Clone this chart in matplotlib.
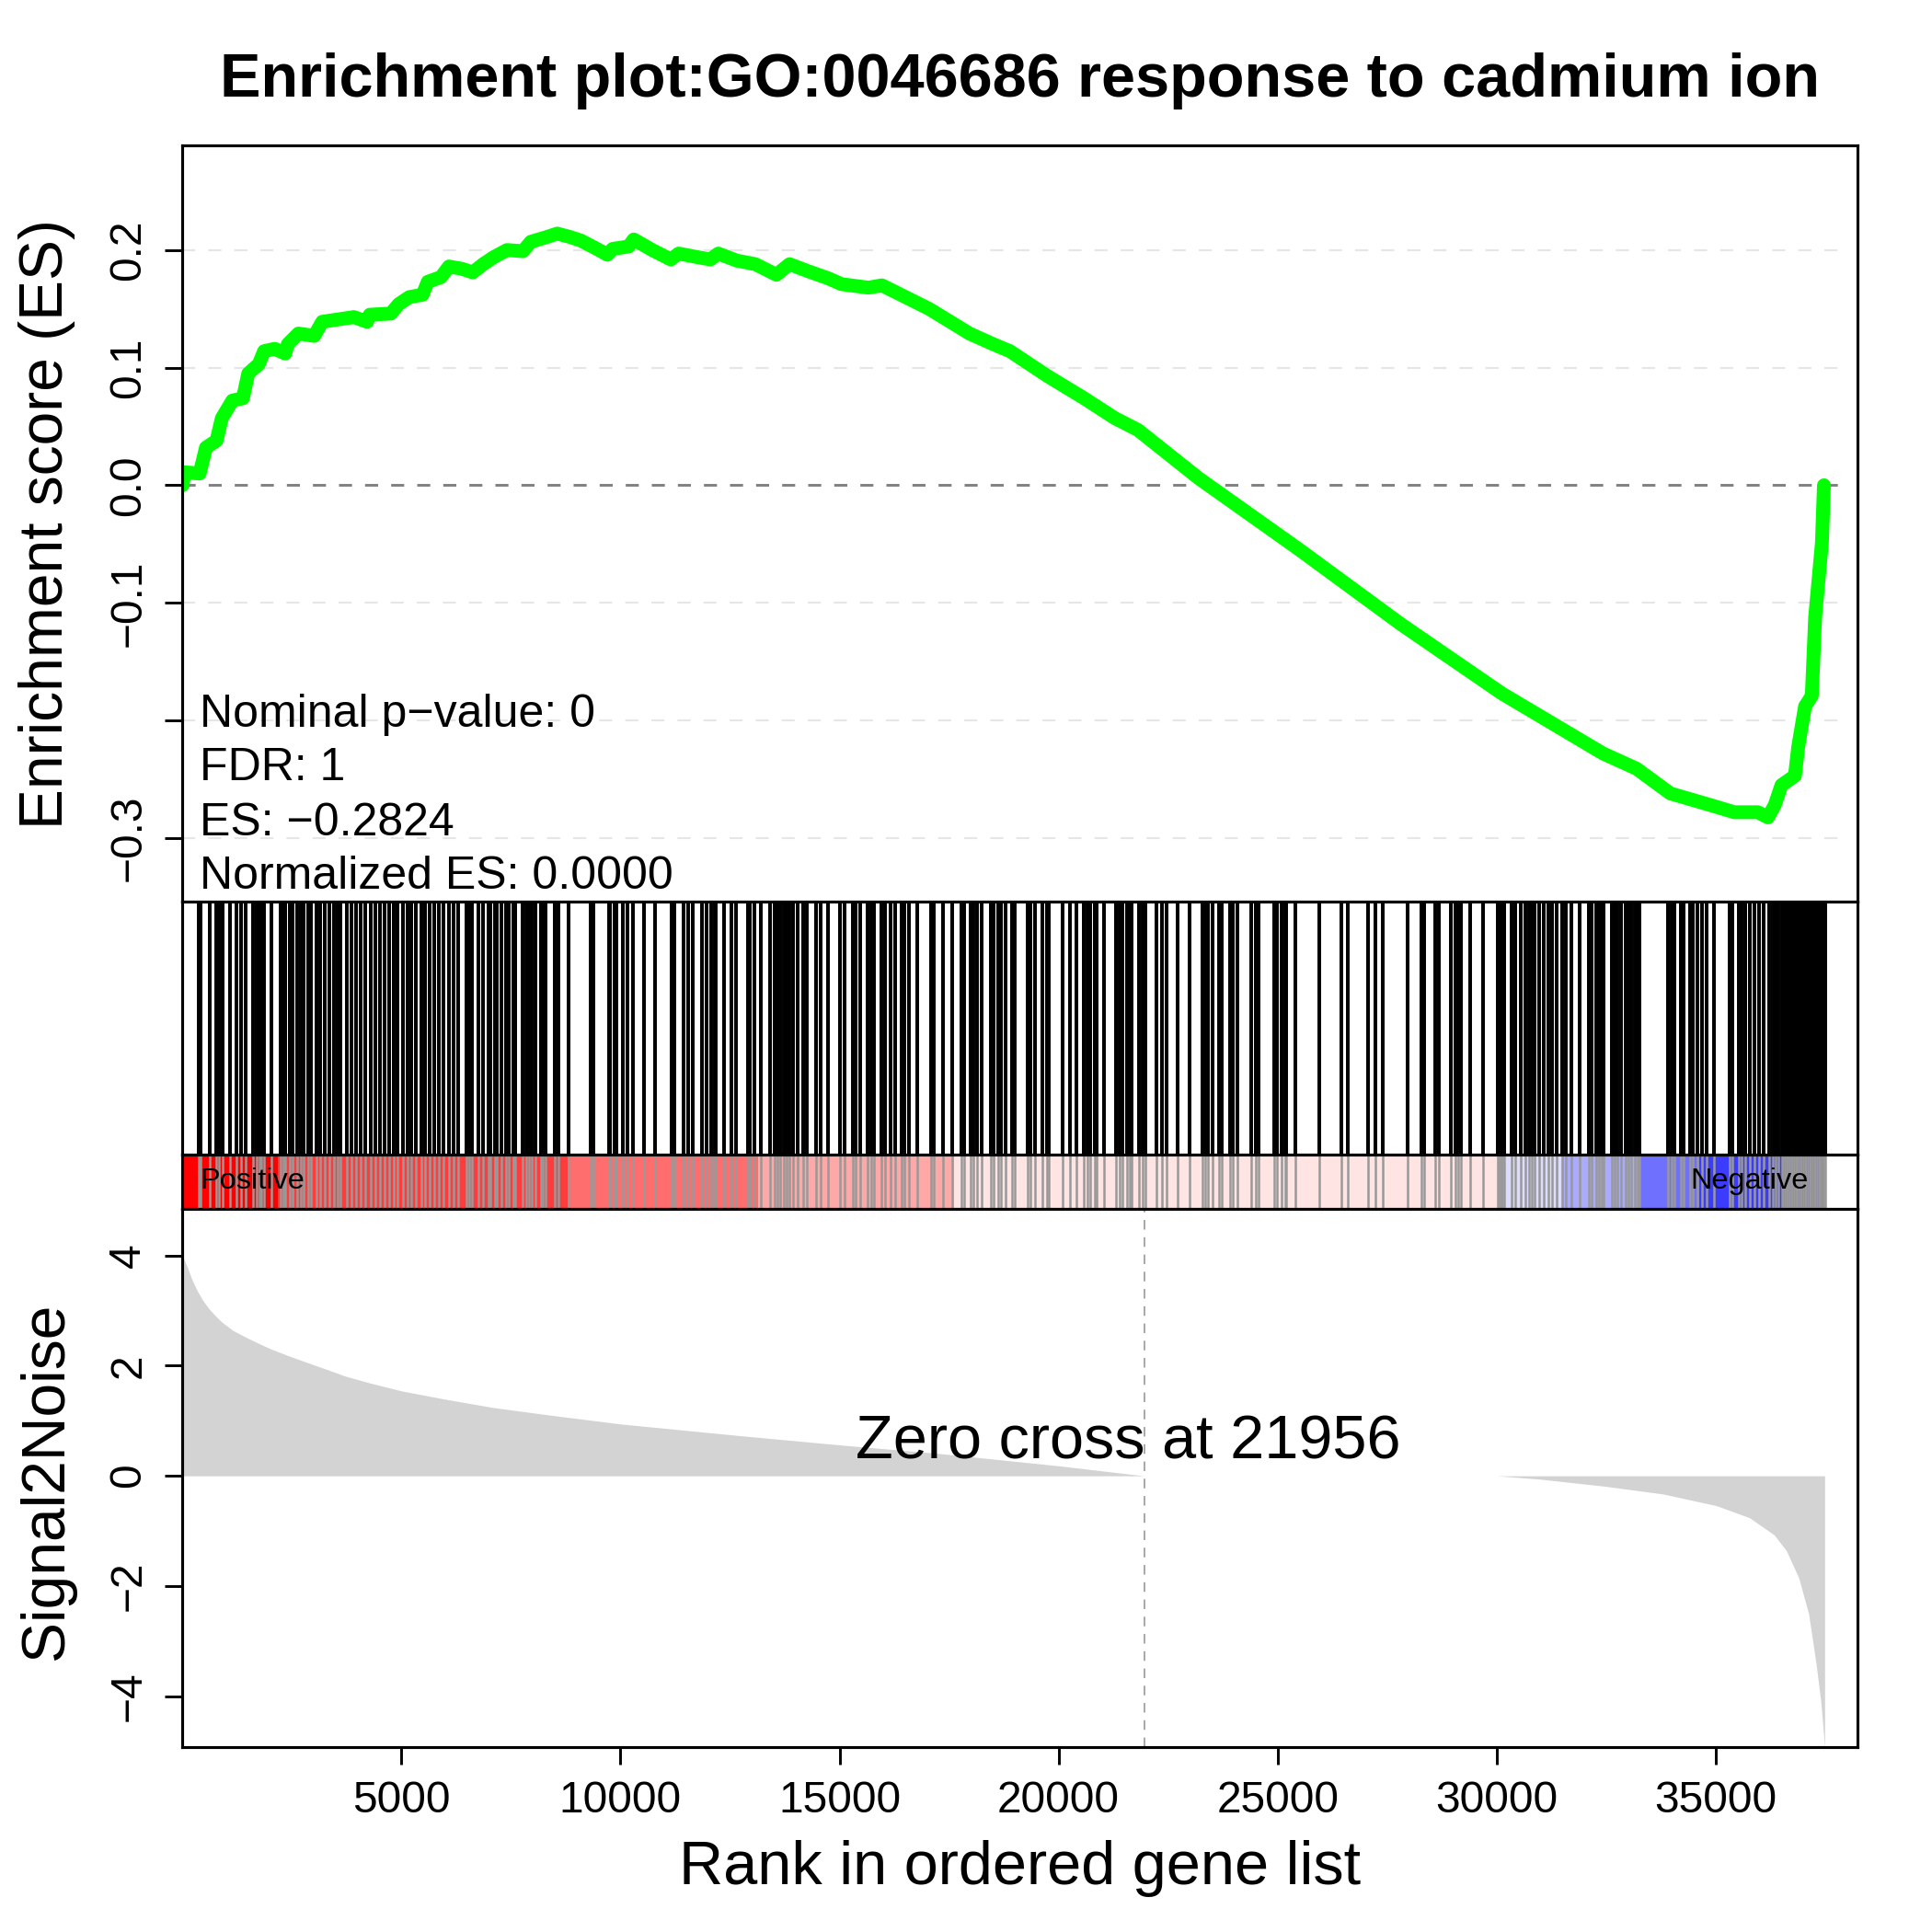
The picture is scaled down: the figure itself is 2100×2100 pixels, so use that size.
import matplotlib
matplotlib.use("Agg")
import matplotlib.pyplot as plt

plt.rcParams['font.family'] = ['Liberation Sans', 'DejaVu Sans']
plt.rcParams['lines.scale_dashes'] = False
plt.rcParams['axes.unicode_minus'] = True

# ---------------- data ----------------
title = "Enrichment plot:GO:0046686 response to cadmium ion"
n_genes = 37520
zero_cross = 21956

es_rank = [0, 57, 395, 539, 781, 901, 1142, 1383, 1504, 1745, 1866, 2107, 2348, 2408, 2649, 3011,
           3192, 3553, 3915, 4216, 4277, 4759, 4939, 5181, 5482, 5603, 5904, 6085, 6386, 6627, 6868,
           7109, 7411, 7773, 7953, 8315, 8556, 8857, 9099, 9460, 9701, 9822, 10184, 10304, 10726,
           11148, 11329, 11750, 12052, 12233, 12655, 13077, 13559, 13860, 14282, 14740, 15046, 15661,
           15968, 16507, 17045, 17968, 18506, 18891, 19741, 20582, 21287, 21813, 23197, 25505, 27811,
           30118, 32425, 33194, 33963, 34886, 35424, 35962, 36193, 36347, 36501, 36808, 36885, 37039,
           37193, 37270, 37424, 37470]
es_val = [0, 0.011, 0.010, 0.032, 0.038, 0.057, 0.072, 0.074, 0.095, 0.103, 0.114, 0.116, 0.112,
          0.120, 0.129, 0.127, 0.139, 0.141, 0.143, 0.139, 0.145, 0.146, 0.154, 0.160, 0.162, 0.173,
          0.177, 0.186, 0.184, 0.181, 0.188, 0.194, 0.200, 0.199, 0.207, 0.211, 0.214, 0.211, 0.208,
          0.201, 0.196, 0.201, 0.203, 0.209, 0.200, 0.192, 0.197, 0.194, 0.192, 0.197, 0.191, 0.188,
          0.179, 0.188, 0.182, 0.176, 0.171, 0.168, 0.170, 0.160, 0.150, 0.129, 0.120, 0.114, 0.093,
          0.074, 0.057, 0.047, 0.006, -0.055, -0.118, -0.177, -0.228, -0.241, -0.262, -0.272, -0.278,
          -0.278, -0.2824, -0.272, -0.255, -0.247, -0.222, -0.188, -0.179, -0.112, -0.049, 0.0]

hits = [367, 423, 633, 773, 829, 913, 1088, 1228, 1333, 1438, 1613, 1697, 1753, 1809, 1858, 2033,
        2243, 2313, 2348, 2453, 2523, 2628, 2698, 2768, 2873, 2943, 3069, 3153, 3258, 3363, 3468,
        3538, 3608, 3748, 3853, 3958, 4063, 4168, 4308, 4413, 4518, 4609, 4728, 4833, 4917, 5043,
        5148, 5218, 5323, 5463, 5533, 5638, 5743, 5848, 5953, 6093, 6198, 6303,
        6478, 6548, 6604, 6758, 6863, 6982, 7038, 7143, 7178, 7283, 7388, 7458, 7563, 7598, 7773,
        7843, 7913, 7983, 8053, 8193, 8228, 8298, 8508, 8578, 8823, 9313, 9383, 9733, 9768, 9873,
        9908, 10048, 10153, 10293, 10538, 10783, 11168, 11238, 11448, 11553, 11658, 11868, 11973,
        12078, 12148, 12183, 12358, 12533, 12638,
        12918, 12953, 13058, 13198, 13408, 13513, 13583, 13653, 13723, 13793, 13863, 13933, 14038,
        14178, 14248, 14458, 14563, 14738, 15018, 15123, 15298, 15368, 15473, 15648, 15718, 15788,
        15963, 16033, 16173, 16278, 16418, 16488, 16593, 16768, 17083, 17153, 17363, 17573, 17783,
        17853, 17993, 18063, 18133, 18238, 18448, 18518, 18623, 18693, 18798, 18938, 19008,
        19288, 19358, 19463, 19638, 19743, 19778, 20093, 20268, 20408, 20583, 20653, 20723, 20828,
        20863, 21038, 21318, 21388, 21458, 21563, 21633, 21668, 21843, 21913, 21983, 22228, 22368,
        22473, 22718, 22998, 23278, 23348, 23418, 23523, 23663, 23733, 23908, 23978, 24083, 24398,
        24503, 24573, 24923, 24993, 25098, 25168, 25203, 25413,
        25952, 26463, 26603, 27058, 27233, 27408, 27968, 28283, 28353, 28598, 28689, 28948, 29053,
        29123, 29193, 29403, 29683, 30033, 30068, 30103, 30138, 30173, 30348, 30418, 30558, 30663,
        30733, 30803, 30873, 30978, 31083, 31188, 31258, 31363, 31503, 31573, 31713, 31888,
        32098, 32168, 32273, 32343, 32392, 32448, 32623, 32693, 32763, 32833, 32938, 33008, 33078,
        33148, 33218, 33253, 33918, 33988, 34058, 34198, 34268, 34408, 34478, 34583, 34688, 34793,
        34968, 35318, 35388, 35528, 35598, 35668, 35773, 35878, 35983, 36088, 36228, 36298, 36368,
        36438, 36508, 36543, 36578, 36613, 36648, 36683, 36718, 36753, 36788, 36823, 36858, 36893,
        36928, 36963, 36998, 37033, 37068, 37103, 37138, 37173, 37208, 37243, 37278, 37313, 37348,
        37383, 37418, 37453, 37488, 37510]

band_edges = [0, 2180, 8790, 13150, 17610, 30000, 31500, 33290, 34630, 36900, 37520]
band_colors = ["#FF0000", "#FF3C3C", "#FF6E6E", "#FFA8A8", "#FFE4E4",
               "#DCDCFF", "#AAAAFF", "#7070FF", "#3C3CFF", "#0000FF"]

metric_rank = [0, 40, 113, 220, 338, 470, 619, 760, 900, 1150, 1462, 1750, 2025, 2450, 2869, 3300,
               3713, 4300, 5006, 6000, 7087, 8500, 10011, 12711, 15017, 17210, 20022, 21956,
               30006, 30990, 32481, 33802, 35011, 35771, 36333, 36614, 36895, 37120, 37290,
               37402, 37486]
metric_val = [4.04, 3.92, 3.79, 3.56, 3.36, 3.18, 3.02, 2.90, 2.79, 2.64, 2.51, 2.40, 2.30, 2.17,
              2.05, 1.93, 1.81, 1.68, 1.54, 1.39, 1.24, 1.09, 0.94, 0.73, 0.56, 0.41, 0.18, 0.0,
              0.0, -0.06, -0.19, -0.33, -0.54, -0.76, -1.07, -1.36, -1.85, -2.5, -3.4,
              -4.11, -4.92]

stats_lines = ["Nominal p\u2212value: 0", "FDR: 1", "ES: \u22120.2824", "Normalized ES: 0.0000"]
es_ticks = [0.2, 0.1, 0.0, -0.1, -0.2, -0.3]
es_ticklabels = ["0.2", "0.1", "0.0", "\u22120.1", "", "\u22120.3"]
m_ticks = [4, 2, 0, -2, -4]
x_ticks = [5000, 10000, 15000, 20000, 25000, 30000, 35000]

# ---------------- figure ----------------
fig = plt.figure(figsize=(7, 7), dpi=300)
L, W = 0.09438, 0.86714
XLIM = (0, 38240)
SPW = 0.75

ax_es = fig.add_axes([L, 0.53333, W, 0.39143])
ax_hit = fig.add_axes([L, 0.40257, W, 0.13076])
ax_cb = fig.add_axes([L, 0.37448, W, 0.02809])
ax_m = fig.add_axes([L, 0.09576, W, 0.27872])

for ax in (ax_es, ax_hit, ax_cb, ax_m):
    ax.set_xlim(*XLIM)
    for s in ax.spines.values():
        s.set_linewidth(SPW)
        s.set_zorder(10)

# ES panel
ax_es.set_ylim(-0.354, 0.289)
for g in [0.2, 0.1, -0.1, -0.2, -0.3]:
    ax_es.axhline(g, color="#E6E6E6", lw=0.5, dashes=(3.4, 3.4), xmax=0.99, zorder=1)
ax_es.axhline(0.0, color="#808080", lw=0.7, dashes=(3.4, 3.4), xmax=0.99, zorder=1)
ax_es.plot(es_rank, es_val, color="#00FF00", lw=3.6, solid_capstyle="round",
           solid_joinstyle="round", zorder=3)
ax_es.set_xticks([])
ax_es.set_yticks(es_ticks)
ax_es.set_yticklabels(es_ticklabels)
ax_es.tick_params(axis='y', length=4.6, width=0.7, labelsize=11.5, pad=4)
for lab in ax_es.get_yticklabels():
    lab.set_rotation(90)
    lab.set_va('center')
for i, (s, yy) in enumerate(zip(stats_lines, [0.2474, 0.1758, 0.1040, 0.0324])):
    ax_es.text(0.0103, yy, s, transform=ax_es.transAxes, fontsize=12, ha='left', va='center')

# hits panel
ax_hit.set_ylim(0, 1)
ax_hit.vlines(hits, 0, 1, color="black", lw=0.95)
ax_hit.set_xticks([])
ax_hit.set_yticks([])

# colour bar
ax_cb.set_ylim(0, 1)
for i, c in enumerate(band_colors):
    ax_cb.axvspan(band_edges[i], band_edges[i + 1], color=c, lw=0, zorder=1)
ax_cb.vlines(hits, 0, 1, color="#999999", lw=0.6, zorder=2)
ax_cb.set_xticks([])
ax_cb.set_yticks([])
ax_cb.text(395, 0.5, "Positive", fontsize=7.8, ha='left', va='center', zorder=5)
ax_cb.text(37127, 0.5, "Negative", fontsize=7.8, ha='right', va='center', zorder=5)

# metric panel
ax_m.set_ylim(-4.92, 4.85)
ax_m.fill_between(metric_rank, 0, metric_val, color="#D3D3D3", lw=0, zorder=1)
ax_m.axvline(zero_cross, color="#999999", lw=0.4, dashes=(2.5, 2.0), zorder=2)
ax_m.text(21590, 0.60, "Zero cross at %d" % zero_cross, fontsize=16, ha='center', va='center',
          zorder=3)
ax_m.set_yticks(m_ticks)
ax_m.set_yticklabels([("\u2212%d" % -t) if t < 0 else "%d" % t for t in m_ticks])
ax_m.set_xticks(x_ticks)
ax_m.set_xticklabels([str(t) for t in x_ticks])
ax_m.tick_params(axis='both', length=4.6, width=0.7, labelsize=11.5)
ax_m.tick_params(axis='y', pad=4)
ax_m.tick_params(axis='x', pad=4)
for lab in ax_m.get_yticklabels():
    lab.set_rotation(90)
    lab.set_va('center')

# labels
fig.text(0.528, 0.958, title, fontsize=16, fontweight='bold', ha='center', va='center')
fig.text(0.0243, 0.729, "Enrichment score (ES)", fontsize=15.8, rotation=90,
         ha='center', va='center')
fig.text(0.0243, 0.2333, "Signal2Noise", fontsize=15.8, rotation=90, ha='center', va='center')
fig.text(0.528, 0.0328, "Rank in ordered gene list", fontsize=16, ha='center', va='center')

fig.savefig("out.png", dpi=300, facecolor="white")
